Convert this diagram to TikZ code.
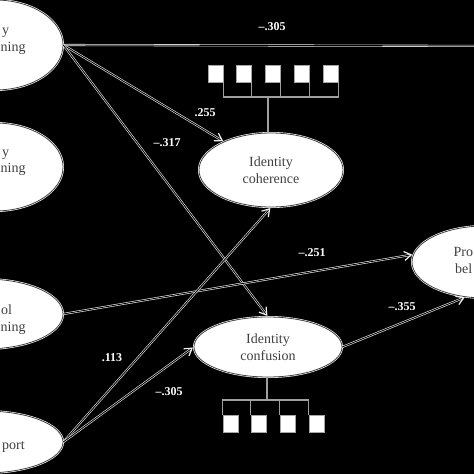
\documentclass[tikz,border=0pt]{standalone}
\usepackage{fontspec}
\setmainfont{Liberation Serif}
\usetikzlibrary{shapes.geometric,arrows.meta}
\begin{document}
\begin{tikzpicture}[x=1pt,y=-1pt,
  lat/.style={ellipse, draw=white, double=black!75, line width=0.6pt, double distance=0.8pt,
    fill=white, inner sep=0pt, text=black!75, align=center, font=\fontsize{14}{17}\selectfont},
  frag/.style={text=black!75, inner sep=0pt, font=\fontsize{14}{17}\selectfont},
  conn/.style={draw=white!90!gray, double=black, line width=0.6pt, double distance=0.9pt},
  arr/.style={conn, -{Straight Barb[length=7pt,width=9pt,line width=1.2pt]}, shorten >=1pt},
  coef/.style={text=white, inner sep=1pt, font=\fontsize{12}{14}\selectfont\bfseries},
  ind/.style={draw=gray!70, fill=white, line width=1pt, minimum width=15pt, minimum height=17pt, inner sep=0pt},
  ibar/.style={draw=gray!75, line width=1.2pt}
]
\useasboundingbox (0,0) rectangle (474,474);
\fill[black] (0,0) rectangle (474,474);
\begin{scope}
\clip (0,0) rectangle (474,474);

% latent variables
\node[lat, minimum width=136pt, minimum height=90pt] (e1) at (-5,45) {};
\node[lat, minimum width=136pt, minimum height=88pt] (e2) at (-5,167) {};
\node[lat, minimum width=156pt, minimum height=70pt] (e3) at (-15,314) {};
\node[lat, minimum width=156pt, minimum height=62pt] (e4) at (-15,442) {};
\node[lat, minimum width=144pt, minimum height=74pt] (coh) at (271,170) {Identity\\coherence};
\node[lat, minimum width=148pt, minimum height=60pt] (conf) at (268,347) {Identity\\confusion};
\node[lat, minimum width=146pt, minimum height=72pt] (pb) at (485,262) {};

% partly visible labels
\node[frag, anchor=base west] (t1a) at (2,34) {y};
\node[frag, anchor=base west] (t1b) at (0.5,51) {ning};
\node[frag, anchor=base west] (t2a) at (2,156) {y};
\node[frag, anchor=base west] (t2b) at (0.5,172) {ning};
\node[frag, anchor=base west] (t3a) at (1,314) {ol};
\node[frag, anchor=base west] (t3b) at (0.5,331) {ning};
\node[frag, anchor=base west] (t4a) at (2,449) {port};
\node[frag, anchor=base west] (t5a) at (453.5,256) {Pro};
\node[frag, anchor=base west] (t5b) at (455,273) {bel};

% indicators (top)
\node[ind] (i1) at (215.5,73.5) {};
\node[ind] (i2) at (243.5,73.5) {};
\node[ind] (i3) at (272.5,73.5) {};
\node[ind] (i4) at (301.5,73.5) {};
\node[ind] (i5) at (330.5,73.5) {};
\coordinate (tb) at (268,97);
\draw[ibar] (i1.south east) -- (i1.south east |- tb) -- (i5.south east |- tb) -- (i5.south east);
\foreach \k in {2,3,4} \draw[ibar] (i\k.south east) -- (i\k.south east |- tb);
\draw[ibar] (tb) -- (tb |- coh.north);

% indicators (bottom)
\node[ind] (j1) at (230.5,423.5) {};
\node[ind] (j2) at (258.5,423.5) {};
\node[ind] (j3) at (287.5,423.5) {};
\node[ind] (j4) at (316.5,423.5) {};
\coordinate (bb) at (267,400);
\draw[ibar] (j1.north west) -- (j1.north west |- bb) -- (j4.north west |- bb) -- (j4.north west);
\foreach \k in {2,3} \draw[ibar] (j\k.north west) -- (j\k.north west |- bb);
\draw[ibar] (bb |- conf.south) -- (bb);

% paths
\coordinate (far) at (520,46);
\draw[conn] (e1.east) -- (far);
\draw[arr] (e1.east) -- (coh);
\draw[arr] (e1.east) -- (conf.north);
\draw[arr] (e3.east) -- (pb.174);
\draw[arr] (e4.east) -- (coh.south);
\draw[arr] (e4.east) -- (conf.west);
\draw[arr] (conf.east) -- (pb.241);

% coefficients
\node[coef] (c1) at (272,27) {–.305};
\node[coef] (c2) at (205,113) {.255};
\node[coef] (c3) at (167,143) {–.317};
\node[coef] (c4) at (312,253) {–.251};
\node[coef] (c5) at (112,358) {.113};
\node[coef] (c6) at (169,392) {–.305};
\node[coef] (c7) at (402,307) {–.355};
\end{scope}
\end{tikzpicture}
\end{document}
